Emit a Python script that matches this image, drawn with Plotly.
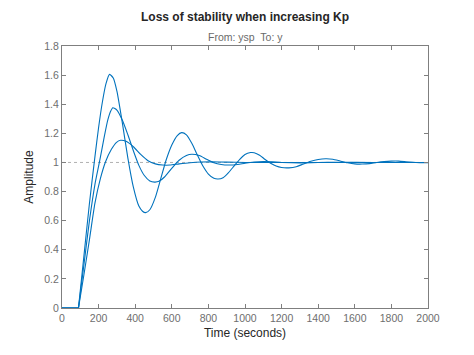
import plotly.graph_objects as go

# --- data ---
dead_time = 90

t_a = [0, 90, 120, 150, 180, 200, 220, 240, 260, 280, 300, 330, 360, 390, 420, 440, 457, 480, 510, 540, 570,
       600, 630, 654, 680, 710, 740, 770, 800, 830, 853, 880, 910, 940, 970, 1000, 1030, 1050, 1080, 1110,
       1140, 1170, 1200, 1240, 1280, 1320, 1360, 1400, 1440, 1480, 1520, 1560, 1600, 1640, 1680, 1720,
       1760, 1800, 1840, 1880, 1920, 1960, 2000]
y_a = [0, 0, 0.36, 0.72, 1.04, 1.24, 1.41, 1.54, 1.605, 1.58, 1.49, 1.27, 1.03, 0.83, 0.70, 0.665, 0.655, 0.675,
       0.76, 0.89, 1.02, 1.12, 1.185, 1.205, 1.19, 1.13, 1.05, 0.975, 0.92, 0.891, 0.886, 0.895, 0.93, 0.975,
       1.02, 1.055, 1.068, 1.067, 1.05, 1.02, 0.995, 0.975, 0.965, 0.963, 0.97, 0.99, 1.008, 1.02, 1.025,
       1.022, 1.01, 0.998, 0.99, 0.989, 0.992, 1.0, 1.006, 1.009, 1.009, 1.005, 1.001, 0.998, 0.998]

t_b = [0, 90, 120, 150, 180, 205, 230, 250, 265, 278, 300, 330, 360, 390, 420, 450, 480, 506, 530, 560, 600,
       640, 680, 710, 750, 790, 830, 870, 910, 960, 1000, 1050, 1100, 1150, 1200, 1300, 1400, 1500, 1700, 2000]
y_b = [0, 0, 0.30, 0.60, 0.85, 1.005, 1.17, 1.29, 1.35, 1.376, 1.36, 1.29, 1.19, 1.08, 0.98, 0.91, 0.873, 0.865,
       0.87, 0.9, 0.96, 1.015, 1.048, 1.056, 1.047, 1.022, 0.998, 0.986, 0.982, 0.986, 0.995, 1.003, 1.006,
       1.004, 1.0, 0.997, 1.0, 1.001, 1.0, 1.0]

t_c = [0, 90, 120, 150, 180, 210, 238, 270, 298, 320, 350, 390, 430, 470, 510, 550, 590, 640, 700, 760, 820,
       900, 1000, 1200, 1500, 2000]
y_c = [0, 0, 0.23, 0.47, 0.72, 0.89, 1.005, 1.09, 1.138, 1.152, 1.145, 1.108, 1.055, 1.012, 0.99, 0.982,
       0.982, 0.99, 0.998, 1.003, 1.004, 1.002, 1.0, 1.0, 1.0, 1.0]

x_ticks = [0, 200, 400, 600, 800, 1000, 1200, 1400, 1600, 1800, 2000]
y_ticks = [0, 0.2, 0.4, 0.6, 0.8, 1.0, 1.2, 1.4, 1.6, 1.8]
y_tick_text = ["0", "0.2", "0.4", "0.6", "0.8", "1", "1.2", "1.4", "1.6", "1.8"]

line_color = "#0072BD"
axis_color = "#7f7f7f"
font_family = "Liberation Sans, Arial, sans-serif"

fig = go.Figure()
fig.add_trace(go.Scatter(x=[0, 2000], y=[1, 1], mode="lines",
                         line=dict(color="#b0b0b0", width=1, dash="dot"), hoverinfo="skip"))
for tt, yy in [(t_a, y_a), (t_b, y_b), (t_c, y_c)]:
    k = tt.index(dead_time)
    fig.add_trace(go.Scatter(x=tt[:k + 1], y=yy[:k + 1], mode="lines",
                             line=dict(color=line_color, width=1.1)))
    fig.add_trace(go.Scatter(x=tt[k:], y=yy[k:], mode="lines",
                             line=dict(color=line_color, width=1.1, shape="spline", smoothing=0.6)))

axis_common = dict(showline=True, linecolor=axis_color, linewidth=1, mirror="ticks",
                   ticks="inside", ticklen=4, tickcolor=axis_color, showgrid=False, zeroline=False,
                   automargin=False,
                   tickfont=dict(family=font_family, size=10.5, color="#6e6e6e"))

fig.update_layout(
    width=474, height=355,
    margin=dict(l=54, r=54, t=38, b=55, autoexpand=False),
    paper_bgcolor="white", plot_bgcolor="white",
    showlegend=False,
    font=dict(family=font_family),
    xaxis=dict(range=[0, 2000], tickvals=x_ticks, ticktext=[str(v) for v in x_ticks],
               title=dict(text="Time (seconds)", font=dict(size=12, color="#262626"), standoff=6),
               **axis_common),
    yaxis=dict(range=[0, 1.8], tickvals=y_ticks, ticktext=y_tick_text,
               title=dict(text="Amplitude", font=dict(size=12, color="#262626"), standoff=8),
               **axis_common),
    annotations=[
        dict(text="<b>Loss of stability when increasing Kp</b>", x=0.5, y=1.0, xref="paper", yref="paper",
             yanchor="bottom", yshift=20, showarrow=False, font=dict(size=12, color="#262626")),
        dict(text="From: ysp  To: y", x=0.5, y=1.0, xref="paper", yref="paper", yanchor="bottom", yshift=1,
             showarrow=False, font=dict(size=10.5, color="#6a6a6a")),
    ],
)

fig.write_html("out.html")
